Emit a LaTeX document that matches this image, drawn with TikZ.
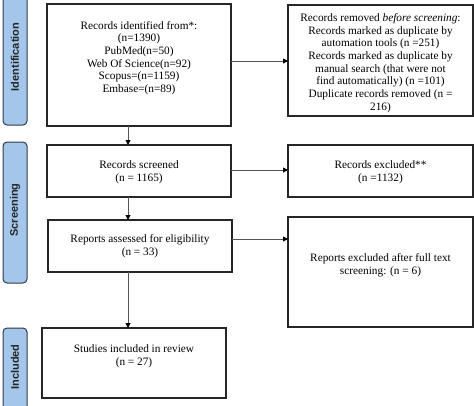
\documentclass[tikz,border=0pt]{standalone}
\usepackage{fontspec}
\setmainfont{Liberation Serif}
\newfontfamily\tabfont{Liberation Sans}
\usetikzlibrary{arrows.meta}
\definecolor{tabblue}{HTML}{A3C6EA}
\definecolor{tabline}{HTML}{2E3A48}
\definecolor{arrowgray}{HTML}{555555}
\tikzset{
  box/.style={draw=black!85, line width=1.1pt, fill=white, align=center, inner sep=2pt},
  tab/.style={draw=tabline, fill=tabblue, line width=1pt, rounded corners=4pt},
  tablabel/.style={rotate=90, font=\tabfont\bfseries\fontsize{11}{12}\selectfont, text=black!85},
  arr/.style={draw=arrowgray, line width=0.9pt, -{Triangle[length=5pt,width=5pt,color=black]}},
  txt/.style={font=\fontsize{11.3}{12.7}\selectfont, align=center}
}
\begin{document}
\begin{tikzpicture}[x=1pt,y=-1pt]
\useasboundingbox (0,0) rectangle (474,405);
% side tabs
\draw[tab] (3,-10) rectangle (27,125);
\node[tablabel] (tid) at (15,57) {Identification};
\draw[tab] (3,142) rectangle (27,283);
\node[tablabel] (tsc) at (15,210) {Screening};
\draw[tab] (3,328) rectangle (27,415);
\node[tablabel] (tin) at (15,367) {Included};
% boxes
\draw[box] (47,4) rectangle (231,126);
\node[txt] (b1) at (139,58) {Records identified from*:\\(n=1390)\\PubMed(n=50)\\Web Of Science(n=92)\\Scopus=(n=1159)\\Embase=(n=89)};
\coordinate (b1s) at (128,126);
\coordinate (b1e) at (231,61);
\draw[box] (288,5) rectangle (473,116);
\node[txt] (b2) at (380.5,63) {Records removed \textit{before screening}:\\Records marked as duplicate by\\automation tools (n =251)\\Records marked as duplicate by\\manual search (that were not\\find automatically) (n =101)\\Duplicate records removed (n =\\216)};
\coordinate (b2w) at (288,61);
\draw[box] (47,145) rectangle (231,197);
\node[txt] (b3) at (139,172) {Records screened\\(n = 1165)};
\coordinate (b3n) at (128,145);
\coordinate (b3s) at (128,197);
\coordinate (b3e) at (231,170);
\draw[box] (288,145) rectangle (473,197);
\node[txt] (b4) at (380.5,172) {Records excluded**\\(n =1132)};
\coordinate (b4w) at (288,170);
\draw[box] (48,220) rectangle (232,272);
\node[txt] (b5) at (140,246) {Reports assessed for eligibility\\(n = 33)};
\coordinate (b5n) at (128,220);
\coordinate (b5s) at (128,272);
\coordinate (b5e) at (232,239);
\draw[box] (288,217) rectangle (473,327);
\node[txt] (b6) at (380.5,265) {Reports excluded after full text\\screening: (n = 6)};
\coordinate (b6w) at (288,239);
\draw[box] (42,328) rectangle (226,398);
\node[txt] (b7) at (134,356) {Studies included in review\\(n = 27)};
\coordinate (b7n) at (128,328);
% arrows
\draw[arr] (b1e) -- (b2w);
\draw[arr] (b1s) -- (b3n);
\draw[arr] (b3e) -- (b4w);
\draw[arr] (b3s) -- (b5n);
\draw[arr] (b5e) -- (b6w);
\draw[arr] (b5s) -- (b7n);
\end{tikzpicture}
\end{document}
